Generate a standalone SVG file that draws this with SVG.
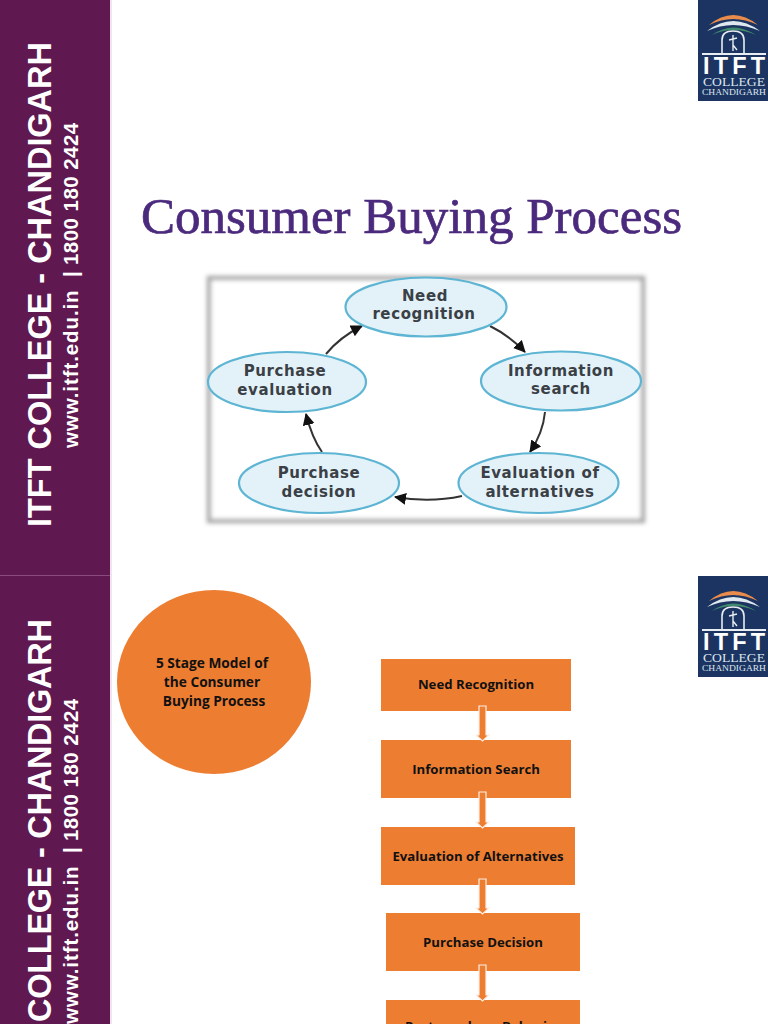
<svg xmlns="http://www.w3.org/2000/svg" width="768" height="1024" viewBox="0 0 768 1024">
<style>
.side{fill:#fff;font-family:"Liberation Sans",Arial,sans-serif;font-weight:700}
.big{font-size:32.5px;text-anchor:end}
.small{font-size:20.5px;text-anchor:start}
.www{letter-spacing:.9px}
.num{letter-spacing:.45px}
.el{fill:#e3f2f8;stroke:#5db5d3;stroke-width:2.2}
.et{font-family:"DejaVu Sans",Verdana,sans-serif;font-size:15px;font-weight:700;fill:#3a4046;text-anchor:middle;letter-spacing:.6px}
.con{fill:none;stroke:#333;stroke-width:2;marker-end:url(#ah)}
.box{fill:#ed7d31}
.bt{font-family:"Open Sans","Noto Sans",sans-serif;font-size:13.2px;font-weight:700;fill:#111;text-anchor:middle}
.ct{font-size:13.7px}
.ar{fill:#ed7d31;stroke:#fdeee3;stroke-width:1.2}
.lg1{font-family:"Liberation Sans",sans-serif;font-weight:700;font-size:23.5px;fill:#fff;text-anchor:middle}
.lg2{font-family:"Liberation Serif",serif;fill:#dfe6f0;text-anchor:middle}
</style>
<defs>
<marker id="ah" markerUnits="userSpaceOnUse" markerWidth="14" markerHeight="14" refX="11" refY="6" orient="auto"><path d="M0 0L12 6L0 12Z" fill="#111"/></marker>
<filter id="blur" x="-5%" y="-5%" width="110%" height="110%"><feGaussianBlur stdDeviation="1.9"/></filter>
<g id="logo-art">
<rect x="0" y="0" width="70" height="101" fill="#1b3461"/>
<path d="M11 25Q35 5 60 25Q35 13 11 25Z" fill="#e98b4a"/>
<path d="M9 31Q35 11 62 31Q35 19 9 31Z" fill="#dfe8ee"/>
<path d="M14 35Q35 20 58 35Q35 25 14 35Z" fill="#3f8a6a"/>
<path d="M24 53V40Q24 31 35 31Q46 31 46 40V53" fill="none" stroke="#e8edf2" stroke-width="1.6"/>
<path d="M35 35V51M31 40L39 38M35 45L39 50" fill="none" stroke="#e8edf2" stroke-width="1.4"/>
<rect x="4" y="53" width="64" height="2" fill="#e8edf2"/>
<text class="lg1" x="36" y="74" textLength="62" lengthAdjust="spacing">ITFT</text>
<text class="lg2" x="36" y="86" font-size="13" textLength="62" lengthAdjust="spacingAndGlyphs">COLLEGE</text>
<text class="lg2" x="36" y="95" font-size="8.5" textLength="64" lengthAdjust="spacingAndGlyphs">CHANDIGARH</text>
</g>
</defs>
<rect width="768" height="1024" fill="#fff"/>
<g id="sidebar">
<rect x="110" y="0" width="2" height="1024" fill="#f1e3f1"/>
<rect x="0" y="0" width="110" height="1024" fill="#601850"/>
<rect x="0" y="575" width="110" height="1" fill="#8a4a7e"/>
<text class="side big" transform="translate(51,42) rotate(-90)" textLength="485" lengthAdjust="spacing">ITFT COLLEGE - CHANDIGARH</text>
<text class="side small" transform="translate(78,0) rotate(-90)"><tspan class="www" x="-448">www.itft.edu.in</tspan> <tspan x="-277">|</tspan> <tspan class="num" x="-265">1800 180 2424</tspan></text>
<text class="side big" transform="translate(51,619) rotate(-90)" textLength="403" lengthAdjust="spacing">COLLEGE - CHANDIGARH</text>
<text class="side small" transform="translate(78,0) rotate(-90)"><tspan class="www" x="-1024">www.itft.edu.in</tspan> <tspan x="-853">|</tspan> <tspan class="num" x="-841">1800 180 2424</tspan></text>
</g>
<use id="logo-top" href="#logo-art" x="698" y="0"/>
<use id="logo-bottom" href="#logo-art" x="698" y="576"/>
<text id="title" x="411.500" y="233" font-family="Liberation Serif,serif" font-size="51" fill="#4b2a7d" stroke="#4b2a7d" stroke-width=".7" text-anchor="middle">Consumer Buying Process</text>
<g id="cycle-frame">
<rect x="209" y="278" width="434" height="243" fill="#fff" stroke="#a9a9a9" stroke-width="4.500" filter="url(#blur)"/>
</g>
<g id="cycle-connectors">
<path class="con" d="M490 326Q510 336 525 352"/>
<path class="con" d="M545 412Q543 433 530 452"/>
<path class="con" d="M462 496Q430 503 395 497"/>
<path class="con" d="M322 452Q312 438 306 414"/>
<path class="con" d="M326 354Q340 337 362 326"/>
</g>
<g id="n-need"><ellipse class="el" cx="426" cy="307" rx="80.500" ry="29.500"/><text class="et" x="425" y="301">Need</text><text class="et" x="424" y="319">recognition</text></g>
<g id="n-info"><ellipse class="el" cx="561" cy="381" rx="80" ry="29.500"/><text class="et" x="561" y="376">Information</text><text class="et" x="561" y="394">search</text></g>
<g id="n-eval"><ellipse class="el" cx="538.500" cy="483" rx="80" ry="30"/><text class="et" x="540" y="478">Evaluation of</text><text class="et" x="540" y="497">alternatives</text></g>
<g id="n-dec"><ellipse class="el" cx="319" cy="483" rx="80" ry="30"/><text class="et" x="319" y="478">Purchase</text><text class="et" x="319" y="497">decision</text></g>
<g id="n-pev"><ellipse class="el" cx="287" cy="382" rx="79" ry="30"/><text class="et" x="285" y="376">Purchase</text><text class="et" x="285" y="395">evaluation</text></g>
<g id="stage-circle"><ellipse cx="214" cy="682" rx="97" ry="92" fill="#ed7d31"/>
<text class="bt ct" x="212" y="668">5 Stage Model of</text><text class="bt ct" x="212" y="687">the Consumer</text><text class="bt ct" x="214" y="706">Buying Process</text></g>
<g id="s1"><rect class="box" x="381" y="659" width="190" height="52"/><text class="bt" x="476" y="689">Need Recognition</text></g>
<g id="s2"><rect class="box" x="381" y="740" width="190" height="58"/><text class="bt" x="476" y="774">Information Search</text></g>
<g id="s3"><rect class="box" x="381" y="827" width="194" height="58"/><text class="bt" x="478" y="861">Evaluation of Alternatives</text></g>
<g id="s4"><rect class="box" x="386" y="913" width="194" height="58"/><text class="bt" x="483" y="947">Purchase Decision</text></g>
<g id="s5"><rect class="box" x="386" y="1000" width="194" height="24"/><text class="bt" x="483" y="1031">Post-purchase Behavior</text></g>
<g id="flow-connectors">
<path class="ar" d="M479 706H486V735H489L482.500 741L476 735H479Z"/>
<path class="ar" d="M479 792H486V822H489L482.500 828L476 822H479Z"/>
<path class="ar" d="M479 879H486V908H489L482.500 914L476 908H479Z"/>
<path class="ar" d="M479 965H486V995H489L482.500 1001L476 995H479Z"/>
</g>
</svg>
